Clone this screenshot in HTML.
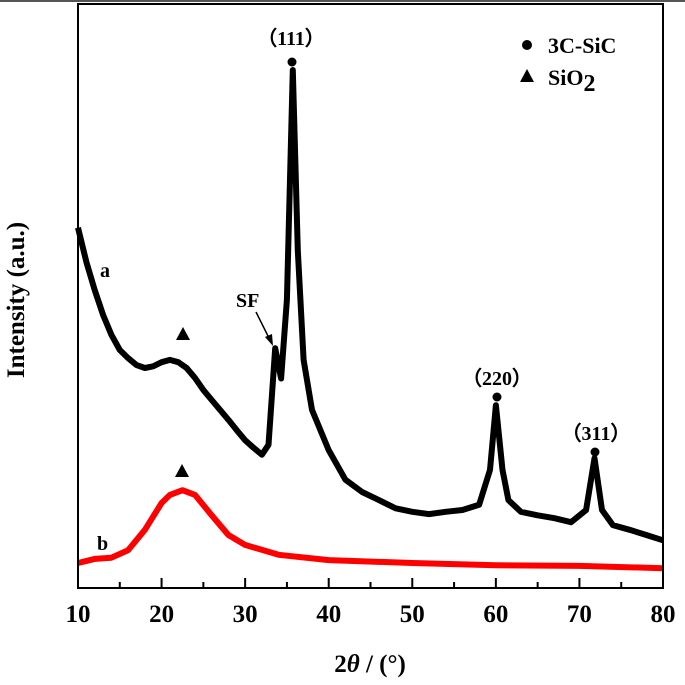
<!DOCTYPE html>
<html><head><meta charset="utf-8"><style>
body{margin:0;background:#fff;}
svg text{font-family:"Liberation Serif",serif;font-weight:bold;fill:#000;}
</style></head><body>
<svg width="685" height="680" viewBox="0 0 685 680">
<rect x="0" y="0" width="685" height="2" fill="#555"/>
<g id="plot"></g>
<rect x="78" y="4" width="585" height="584" fill="none" stroke="#000" stroke-width="2"/>
<g id="ticks"></g>
<text x="24" y="300" font-size="25" text-anchor="middle" transform="rotate(-90 24 300)">Intensity (a.u.)</text>
<text x="370" y="672" font-size="25" text-anchor="middle">2<tspan font-style="italic">θ</tspan> / (°)</text>
<text x="291" y="45" font-size="20" text-anchor="middle">（111）</text>
<text x="497" y="385" font-size="20" text-anchor="middle">（220）</text>
<text x="596" y="440" font-size="20" text-anchor="middle">（311）</text>
<circle cx="292" cy="62" r="4.5" fill="#000"/>
<circle cx="497" cy="397" r="4.5" fill="#000"/>
<circle cx="595" cy="452" r="4.5" fill="#000"/>
<polygon points="183,327 176,340 190,340" fill="#000"/>
<polygon points="182,464 175,477 189,477" fill="#000"/>
<text x="100" y="277" font-size="20">a</text>
<text x="97" y="550" font-size="20">b</text>
<text x="236" y="307" font-size="20">SF</text>
<line x1="256" y1="312" x2="270" y2="340" stroke="#000" stroke-width="1.5"/>
<polygon points="273,346 265,337 272,334" fill="#000"/>
<circle cx="527" cy="45" r="5" fill="#000"/>
<text x="548" y="53" font-size="22">3C-SiC</text>
<polygon points="527,69 520,82 534,82" fill="#000"/>
<text x="548" y="85" font-size="22">SiO<tspan font-size="24" dy="6">2</tspan></text>
</svg>
<script>
const xA = [10,11,12,13,14,15,16,17,18,19,20,21,22,23,24,25,26,27,28,29,30,31,32,32.8,33.6,34.3,35,35.7,36.3,37,38,40,42,44,46,48,50,52,54,56,58,59.3,60,60.8,61.5,63,65,67,69,70.8,71.8,72.7,74,76,78,80];
const yA = [61.9,56,51.2,46.9,43.5,40.9,39.5,38.3,37.8,38.1,38.8,39.2,38.8,37.8,36.1,34,32.3,30.6,28.9,27.1,25.4,24.1,22.9,24.6,41.2,36,49.5,89,58,39.2,30.6,23.7,18.6,16.5,15.1,13.7,13.1,12.7,13.1,13.4,14.3,20.3,31.4,20.3,15.1,13.1,12.5,12,11.3,13.4,22.3,13.4,10.8,10,9.1,8.2];
const xB = [10,12,14,16,18,20,21,22.5,24,26,28,30,34,40,50,60,70,80];
const yB = [4.3,5,5.2,6.5,10,14.6,16,16.8,16,12.5,9.1,7.4,5.7,4.8,4.3,3.9,3.8,3.4];
const xTicks = [10,20,30,40,50,60,70,80];
const xMinor = [15,25,35,45,55,65,75];
const sx = v => 78 + (v-10)*(585/70);
const sy = v => 588 - v*5.82;
const NS='http://www.w3.org/2000/svg';
const plot=document.getElementById('plot');
function line(xs,ys,color,name){
  const p=document.createElementNS(NS,'polyline');
  p.setAttribute('points',xs.map((x,i)=>sx(x).toFixed(1)+','+sy(ys[i]).toFixed(1)).join(' '));
  p.setAttribute('fill','none');p.setAttribute('stroke',color);p.setAttribute('stroke-width','6');
  p.setAttribute('stroke-linejoin','round');
  
  
  plot.appendChild(p);
}
line(xA,yA,'#000','curve-a');
line(xB,yB,'#f00','curve-b');
const tg=document.getElementById('ticks');
xTicks.forEach(t=>{
  const l=document.createElementNS(NS,'line');
  l.setAttribute('x1',sx(t));l.setAttribute('x2',sx(t));l.setAttribute('y1',588);l.setAttribute('y2',578);
  l.setAttribute('stroke','#000');l.setAttribute('stroke-width','2');
  
  
  tg.appendChild(l);
  const tx=document.createElementNS(NS,'text');
  tx.setAttribute('x',sx(t));tx.setAttribute('y',622);tx.setAttribute('font-size','25');tx.setAttribute('text-anchor','middle');
  tx.textContent=t;
  
  
  tg.appendChild(tx);
});
xMinor.forEach(t=>{
  const l=document.createElementNS(NS,'line');
  l.setAttribute('x1',sx(t));l.setAttribute('x2',sx(t));l.setAttribute('y1',588);l.setAttribute('y2',582);
  l.setAttribute('stroke','#000');l.setAttribute('stroke-width','2');
  
  
  tg.appendChild(l);
});
</script>
</body></html>
